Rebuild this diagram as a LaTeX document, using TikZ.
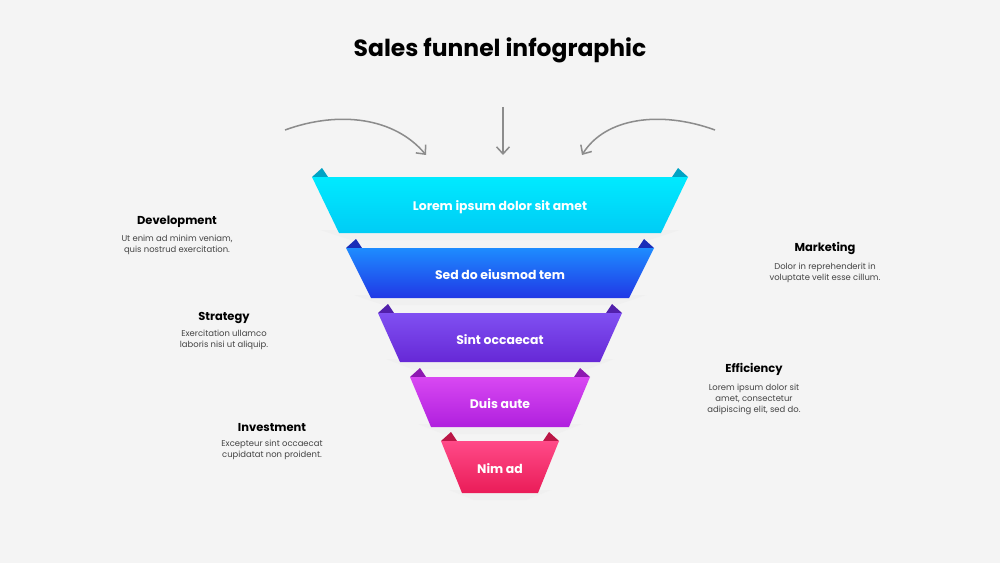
\documentclass[tikz,border=0pt]{standalone}
\usepackage{fontspec}
\setmainfont{Poppins}
\usetikzlibrary{arrows.meta}
\definecolor{bg}{HTML}{F4F4F4}
\definecolor{sub}{HTML}{444444}
\definecolor{c1a}{HTML}{00EAFF}\definecolor{c1b}{HTML}{00CCF5}
\definecolor{c2a}{HTML}{1E8CFF}\definecolor{c2b}{HTML}{2038E6}
\definecolor{c3a}{HTML}{8050F2}\definecolor{c3b}{HTML}{6628D6}
\definecolor{c4a}{HTML}{D848F2}\definecolor{c4b}{HTML}{B020DE}
\definecolor{c5a}{HTML}{FF4A88}\definecolor{c5b}{HTML}{EA1C58}
\tikzset{
 ttl/.style={font=\fontsize{20}{24}\selectfont\bfseries},
 head/.style={font=\fontsize{9.8}{11}\selectfont\bfseries},
 body/.style={font=\fontsize{7.2}{9.4}\selectfont, text=sub, align=center},
 lay/.style={font=\fontsize{10.6}{12}\selectfont\bfseries, text=white},
 arr/.style={draw=gray!90, line width=1.3pt, -{Straight Barb[length=6pt,width=11pt]}}
}
\newcommand{\layer}[9]{% name, ytop, ybot, xtl, xtr, xbl, xbr, colA, colB
 \fill[black!6] ({#4+8},{#3-3}) -- ({#5-8},{#3-3}) -- ({#7-12},{#3+7}) -- ({#6+12},{#3+7}) -- cycle;
 \fill[#9!80!black] (#4,#2) -- ({#4+10},{#2-9}) -- ({#4+16},#2) -- cycle;
 \fill[#9!80!black] (#5,#2) -- ({#5-10},{#2-9}) -- ({#5-16},#2) -- cycle;
 \shade[top color=#8, bottom color=#9] (#4,#2) -- (#5,#2) -- (#7,#3) -- (#6,#3) -- cycle;
 \node[lay] (#1) at ({(#4+#5)/2},{(#2+#3)/2+2}) {};
}
\begin{document}
\begin{tikzpicture}[x=0.03cm,y=-0.03cm]
\fill[bg] (0,0) rectangle (1000,563);
\useasboundingbox (0,0) rectangle (1000,563);
\node[ttl] (title) at (500,50) {Sales funnel infographic};
\layer{l1}{177}{233}{312}{688}{339}{661}{c1a}{c1b}
\layer{l2}{248}{298}{346}{654}{371}{629}{c2a}{c2b}
\layer{l3}{313}{362}{378}{622}{400}{600}{c3a}{c3b}
\layer{l4}{377}{427}{410}{590}{431}{569}{c4a}{c4b}
\layer{l5}{441}{493}{441}{559}{462}{538}{c5a}{c5b}
\node[lay] at (l1) {Lorem ipsum dolor sit amet};
\node[lay] at (l2) {Sed do eiusmod tem};
\node[lay] at (l3) {Sint occaecat};
\node[lay] at (l4) {Duis aute};
\node[lay] at (l5) {Nim ad};
\coordinate (a1s) at (285,130); \coordinate (a1e) at (426,155);
\coordinate (a2s) at (503,107); \coordinate (a2e) at (503,155);
\coordinate (a3s) at (715,130); \coordinate (a3e) at (582,155);
\draw[arr] (a1s) .. controls (340,110) and (395,118) .. (a1e);
\draw[arr] (a2s) -- (a2e);
\draw[arr] (a3s) .. controls (660,110) and (605,118) .. (a3e);
\node[head] (h1) at (177,222) {Development};
\node[body] (b1) at (177,245) {Ut enim ad minim veniam,\\quis nostrud exercitation.};
\node[head] (h2) at (224,318) {Strategy};
\node[body] (b2) at (224,340) {Exercitation ullamco\\laboris nisi ut aliquip.};
\node[head] (h3) at (272,428) {Investment};
\node[body] (b3) at (272,450) {Excepteur sint occaecat\\cupidatat non proident.};
\node[head] (h4) at (825,248) {Marketing};
\node[body] (b4) at (825,273) {Dolor in reprehenderit in\\voluptate velit esse cillum.};
\node[head] (h5) at (754,369) {Efficiency};
\node[body] (b5) at (754,399) {Lorem ipsum dolor sit\\amet, consectetur\\adipiscing elit, sed do.};
\end{tikzpicture}
\end{document}
